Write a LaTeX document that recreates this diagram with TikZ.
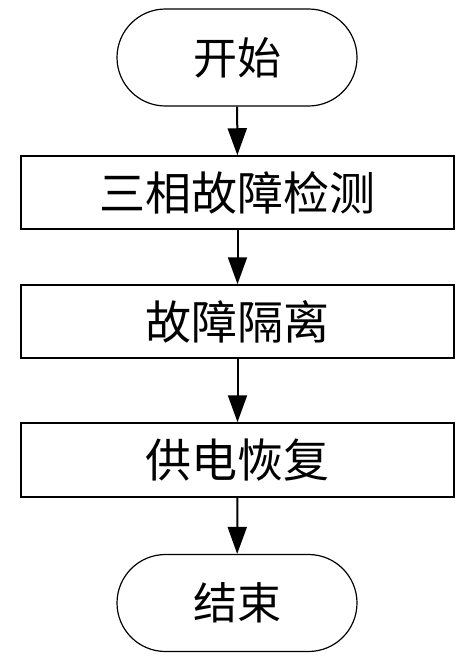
\documentclass[tikz,border=0pt]{standalone}
\usepackage{fontspec}
\setmainfont{Noto Sans CJK SC}
\usetikzlibrary{shapes.misc,arrows.meta}
\begin{document}
\begin{tikzpicture}[x=1pt,y=-1pt,
  term/.style={draw, line width=1.2pt, rounded rectangle, minimum width=240pt, minimum height=97pt, inner sep=0pt, font=\fontsize{44}{44}\selectfont},
  proc/.style={draw, line width=1.5pt, rectangle, minimum width=433pt, inner sep=0pt, font=\fontsize{46}{46}\selectfont},
  flow/.style={line width=2pt, -{Triangle[length=27pt,width=19pt]}}]
\useasboundingbox (0,0) rectangle (474,667);
\node[term] (start) at (237,57.5) {开始};
\node[proc, minimum height=73pt] (detect) at (237.5,192.5) {三相故障检测};
\node[proc, minimum height=73pt] (isolate) at (237.5,321.5) {故障隔离};
\node[proc, minimum height=74pt] (restore) at (237.5,460) {供电恢复};
\node[term] (end) at (237,603) {结束};
\draw[flow] (start) -- (detect);
\draw[flow] (detect) -- (isolate);
\draw[flow] (isolate) -- (restore);
\draw[flow] (restore) -- (end);
\end{tikzpicture}
\end{document}
